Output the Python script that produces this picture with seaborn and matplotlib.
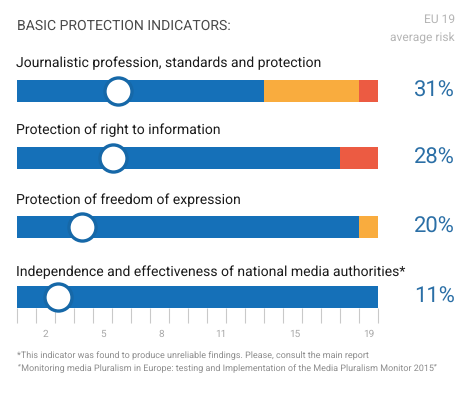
import matplotlib
matplotlib.use("Agg")
import matplotlib.pyplot as plt
import seaborn as sns

# ---- data ----
indicators = ["Journalistic profession, standards and protection",
              "Protection of right to information",
              "Protection of freedom of expression",
              "Independence and effectiveness of national media authorities*"]
low_risk = [13, 17, 18, 19]
medium_risk = [5, 0, 1, 0]
high_risk = [1, 2, 0, 0]
average_position = [5.33, 5.06, 3.43, 2.17]
average_risk = ["31%", "28%", "20%", "11%"]
tick_values = [1.5, 4.55, 7.6, 10.7, 14.6, 18.5]
tick_labels = ["2", "5", "8", "11", "15", "19"]
total = 19

# ---- layout (pixels) ----
W, H = 474, 418
bar_left, bar_right = 17, 378
bar_tops = [80, 147, 216, 286]
bar_h = 22
title_y = [63.5, 130.5, 200.5, 272]
BLUE, ORANGE, RED = "#1570B8", "#F9AC3E", "#EC5B42"
FONT = "Roboto"

sns.set_theme(style="white")
plt.rcParams["font.family"] = [FONT, "DejaVu Sans"]
plt.rcParams["text.hinting"] = "no_hinting"
plt.rcParams["text.hinting_factor"] = 1

fig = plt.figure(figsize=(W / 100, H / 100), dpi=100, facecolor="white")

def T(x, y, s, **k):
    fig.text(x / W, 1 - y / H, s, va="center", **k)

T(17, 26, "BASIC PROTECTION INDICATORS:", fontsize=10.1, color="#4a4a4a", ha="left")
T(455, 19.5, "EU 19", fontsize=8.7, color="#b5b5b5", ha="right")
T(455, 37, "average risk", fontsize=8.7, color="#b5b5b5", ha="right")

for i, name in enumerate(indicators):
    ax = fig.add_axes([bar_left / W, 1 - (bar_tops[i] + bar_h) / H,
                       (bar_right - bar_left) / W, bar_h / H])
    left = 0
    for vals, col in ((low_risk, BLUE), (medium_risk, ORANGE), (high_risk, RED)):
        if vals[i] > 0:
            sns.barplot(x=[vals[i]], y=[name], left=left, color=col, saturation=1,
                        width=1, orient="h", ax=ax, linewidth=0)
        left += vals[i]
    sns.scatterplot(x=[average_position[i]], y=[name], ax=ax, s=380, color="white",
                    edgecolor="#1668A8", linewidth=2.4, clip_on=False, zorder=5, legend=False)
    ax.set_xlim(0, total)
    ax.set_ylim(0.5, -0.5)
    ax.set_xlabel(""); ax.set_ylabel("")
    ax.set_yticks([])
    sns.despine(ax=ax, left=True, bottom=True)
    ax.set_xticks([])
    T(16.5, title_y[i], name, fontsize=10.1, color="#1a1a1a", ha="left")
    T(455, bar_tops[i] + 11, average_risk[i], fontsize=15.9, color="#2B6FA6", ha="right")

# scale under the last bar
ax.set_xticks(range(total + 1))
ax.set_xticklabels([])
ax.set_xticks(tick_values, labels=tick_labels, minor=True)
ax.tick_params(axis="x", which="major", length=10.5, width=0.8, color="#c9c9c9", bottom=True)
ax.tick_params(axis="x", which="minor", length=0, pad=15.5, labelsize=7.5, labelcolor="#a8a8a8", bottom=False)

T(17, 356, "*This indicator was found to produce unreliable findings. Please, consult the main report",
  fontsize=6.5, color="#8c8c8c", ha="left")
T(18, 369, "\u201cMonitoring media Pluralism in Europe: testing and Implementation of the Media Pluralism Monitor 2015\u201d",
  fontsize=6.5, color="#8c8c8c", ha="left")

fig.savefig("out.png", dpi=100)
